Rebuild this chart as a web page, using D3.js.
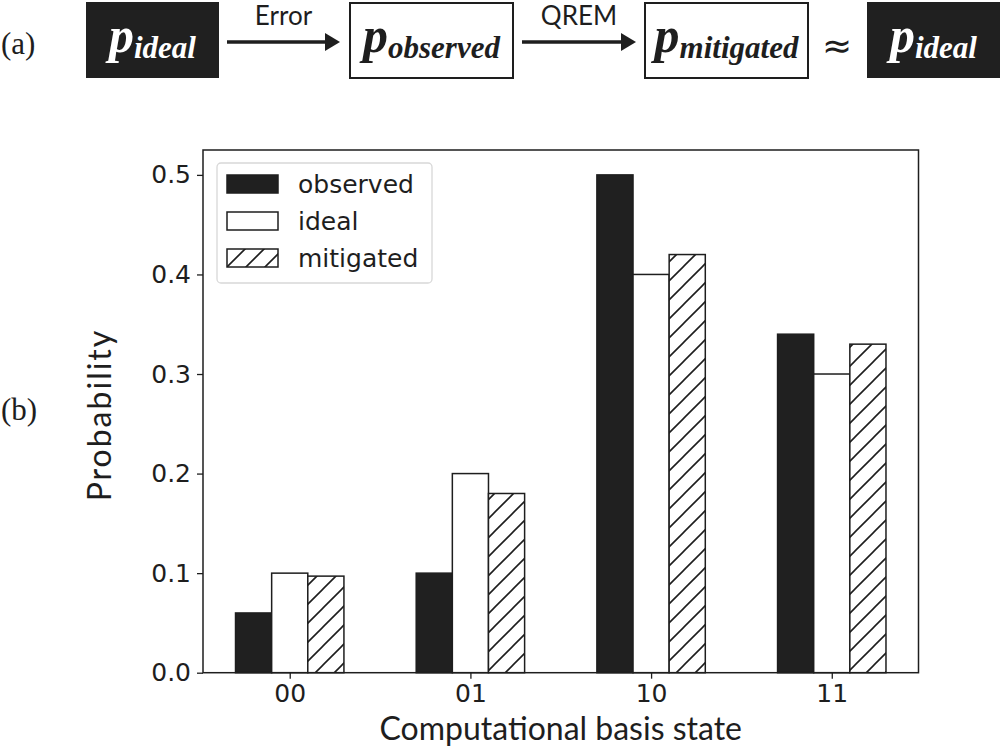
<!DOCTYPE html>
<html><head><meta charset="utf-8">
<script src="https://cdn.jsdelivr.net/npm/d3@7"></script>
<style>body{margin:0;background:#fff}svg{display:block}</style>
</head><body>
<svg id="c" width="1000" height="751"></svg>
<script>
const categories = ["00","01","10","11"];
const seriesNames = ["observed","ideal","mitigated"];
const observed = [0.06, 0.10, 0.50, 0.34];
const ideal = [0.10, 0.20, 0.40, 0.30];
const mitigated = [0.097, 0.18, 0.42, 0.33];
const yTicks = [0.0, 0.1, 0.2, 0.3, 0.4, 0.5];
const xLabel = "Computational basis state";
const yLabel = "Probability";

const svg = d3.select("#c");
const ink = "#1e1e1e";

// hatch pattern
const defs = svg.append("defs");
const pat = defs.append("pattern").attr("id","hatch").attr("patternUnits","userSpaceOnUse")
  .attr("width",19).attr("height",19);
pat.append("rect").attr("width",19).attr("height",19).attr("fill","#fff");
pat.append("path").attr("d","M-2,21 L21,-2 M-4,4 L4,-4 M15,23 L23,15")
  .attr("stroke",ink).attr("stroke-width",1.6);

// ---- panel labels ----
const serif = "'Liberation Serif', 'DejaVu Serif', serif";
svg.append("text").attr("x",1).attr("y",54).attr("font-family",serif).attr("font-size",31).attr("fill",ink).text("(a)");
svg.append("text").attr("x",1).attr("y",420).attr("font-family",serif).attr("font-size",31).attr("fill",ink).text("(b)");

// ---- panel (a) ----
const boxes = [
  {x:86, w:133, sub:"ideal", dark:true},
  {x:349, w:165, sub:"observed", dark:false},
  {x:644, w:165, sub:"mitigated", dark:false},
  {x:867, w:133, sub:"ideal", dark:true}
];
boxes.forEach(b=>{
  svg.append("rect").attr("x",b.x+(b.dark?0:1)).attr("y",b.dark?2:3).attr("width",b.w-(b.dark?0:2)).attr("height",b.dark?76:75)
    .attr("fill",b.dark?"#202020":"#fff").attr("stroke",b.dark?"none":ink).attr("stroke-width",2);
  const t = svg.append("text").attr("x",b.x+b.w/2).attr("y",52).attr("text-anchor","middle")
    .attr("font-family",serif).attr("font-style","italic").attr("font-weight","bold")
    .attr("fill",b.dark?"#fff":ink);
  t.append("tspan").attr("font-size",50).text("p");
  t.append("tspan").attr("font-size",31).attr("dy",6).text(b.sub);
});
const sans2 = "Lato, 'Open Sans', sans-serif";
[{x1:227,x2:340,lab:"Error"},{x1:522,x2:636,lab:"QREM"}].forEach(a=>{
  svg.append("line").attr("x1",a.x1).attr("x2",a.x2-12).attr("y1",42).attr("y2",42).attr("stroke",ink).attr("stroke-width",3.5);
  svg.append("path").attr("d",`M${a.x2-15},33 L${a.x2},42 L${a.x2-15},51 Z`).attr("fill",ink);
  svg.append("text").attr("x",(a.x1+a.x2)/2).attr("y",25).attr("text-anchor","middle")
    .attr("font-family",sans2).attr("font-size",26).attr("fill",ink).text(a.lab);
});
svg.append("text").attr("x",837).attr("y",58).attr("text-anchor","middle").attr("font-family","'DejaVu Sans'")
  .attr("font-size",36).attr("fill",ink).text("≈");

// ---- panel (b) ----
const L=203, R=918.5, T=150, B=672.7;
const x = d3.scaleLinear().domain([-0.48, 3.48]).range([L,R]);
const y = d3.scaleLinear().domain([0, 0.525]).range([B,T]);
const bw = 0.2;
const series = [
  {name:seriesNames[0], vals:observed, fill:"#202020", off:-bw},
  {name:seriesNames[1], vals:ideal, fill:"#fff", off:0},
  {name:seriesNames[2], vals:mitigated, fill:"url(#hatch)", off:bw}
];
const g = svg.append("g");
series.forEach(s=>{
  g.selectAll(null).data(s.vals).enter().append("rect")
    .attr("x",(d,i)=>x(i+s.off-bw/2))
    .attr("width",x(bw)-x(0))
    .attr("y",d=>y(d)).attr("height",d=>y(0)-y(d))
    .attr("fill",s.fill).attr("stroke",ink).attr("stroke-width",1.5);
});

// frame
svg.append("rect").attr("x",L).attr("y",T).attr("width",R-L).attr("height",B-T)
  .attr("fill","none").attr("stroke",ink).attr("stroke-width",1.5);

const dv = "'DejaVu Sans', sans-serif";
const yAxis = svg.append("g").attr("transform",`translate(${L},0)`)
  .call(d3.axisLeft(y).tickValues(yTicks).tickFormat(d3.format(".1f")).tickSize(6).tickPadding(6));
const xAxis = svg.append("g").attr("transform",`translate(0,${B})`)
  .call(d3.axisBottom(x).tickValues(d3.range(categories.length)).tickFormat(i=>categories[i]).tickSize(6).tickPadding(6));
[yAxis,xAxis].forEach(a=>{
  a.select(".domain").remove();
  a.selectAll(".tick line").attr("stroke",ink).attr("stroke-width",1.3);
  a.selectAll(".tick text").attr("font-family",dv).attr("font-size",25).attr("fill",ink);
});

svg.append("text").attr("x",(L+R)/2).attr("y",740).attr("text-anchor","middle")
  .attr("font-family",sans2).attr("font-size",32).attr("fill",ink).text(xLabel);
svg.append("text").attr("transform",`translate(111,415) rotate(-90)`).attr("text-anchor","middle")
  .attr("font-family",sans2).attr("font-size",32).attr("letter-spacing",2).attr("fill",ink).text(yLabel);

// legend
const lg = svg.append("g");
lg.append("rect").attr("x",217).attr("y",163).attr("width",215).attr("height",120).attr("rx",4)
  .attr("fill","#fff").attr("stroke","#d8d8d8").attr("stroke-width",1.3);
series.forEach((s,i)=>{
  const yy = 175 + i*37;
  lg.append("rect").attr("x",227).attr("y",yy).attr("width",51).attr("height",18)
    .attr("fill",s.fill).attr("stroke",ink).attr("stroke-width",1.5);
  lg.append("text").attr("x",298).attr("y",yy+18).attr("font-family",dv).attr("font-size",25)
    .attr("fill",ink).text(s.name);
});
</script>
</body></html>
